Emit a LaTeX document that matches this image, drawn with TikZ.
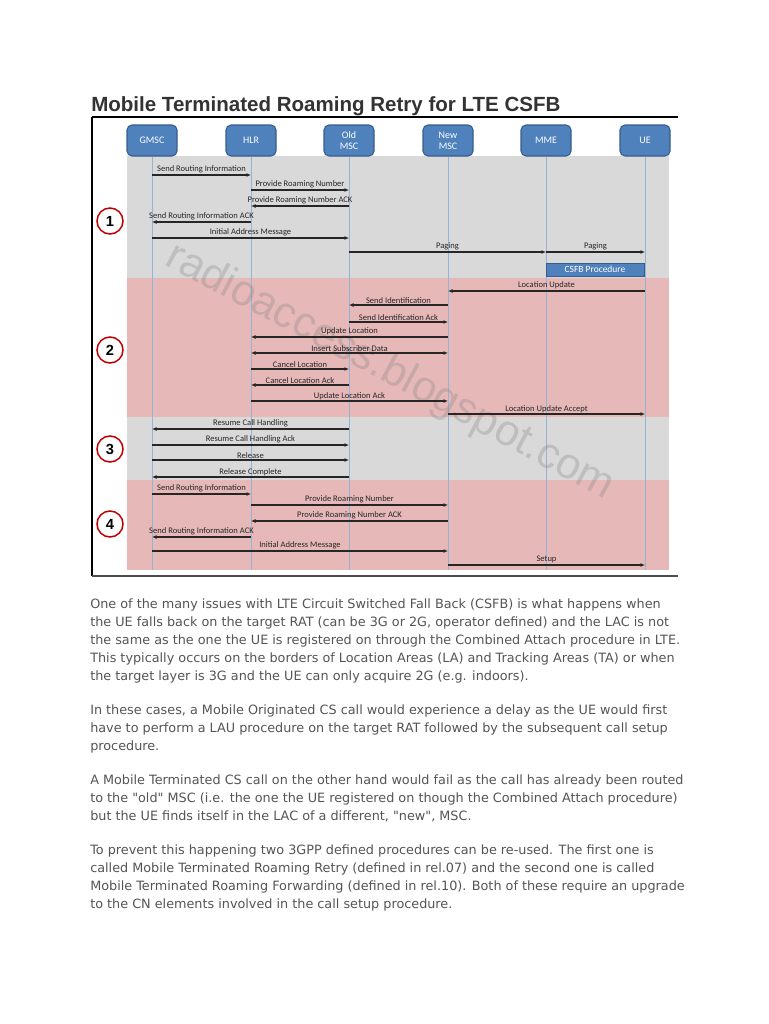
\documentclass[tikz,border=0pt]{standalone}
\usepackage{fontspec}
\setmainfont{DejaVu Sans}[Ligatures=TeXOff]
\newfontfamily\carlito{Carlito}
\newfontfamily\arialf{Liberation Sans}
\usetikzlibrary{arrows.meta}
\newcommand{\px}{0.75pt}
\definecolor{boxblue}{HTML}{4F81BD}
\definecolor{boxedge}{HTML}{385D8A}
\definecolor{lifeblue}{HTML}{95B3D7}
\definecolor{bandgray}{HTML}{D9D9D9}
\definecolor{bandpink}{HTML}{E6B9B8}
\definecolor{stepred}{HTML}{C00000}
\definecolor{titlegray}{HTML}{333333}
\definecolor{bodygray}{HTML}{555555}
\tikzset{
  lifebox/.style={draw=boxedge, fill=boxblue, rounded corners=5*\px, line width=0.8pt,
    minimum width=50*\px, minimum height=31*\px, inner sep=0pt, align=center,
    text=white, font=\carlito\fontsize{7.5}{8.5}\selectfont},
  procbox/.style={draw=boxedge, fill=boxblue, line width=0.6pt,
    minimum width=98*\px, minimum height=13*\px, inner sep=0pt,
    text=white, font=\carlito\fontsize{7.1}{8}\selectfont},
  stepcircle/.style={circle, draw=stepred, fill=white, line width=1.5*\px,
    minimum size=26*\px, inner sep=0pt, font=\arialf\bfseries\fontsize{11}{12}\selectfont},
  lifeline/.style={draw=lifeblue, line width=0.8*\px},
  msgline/.style={draw=black!85, line width=1.5*\px, -{Latex[length=4.5*\px,width=4*\px]}},
  msglabel/.style={midway, above, inner sep=0.6pt, text=black!85,
    font=\carlito\fontsize{6.4}{7}\selectfont},
  bodyline/.style={anchor=base west, inner sep=0pt, text=bodygray,
    font=\fontsize{9.6}{10}\selectfont},
}
\newcommand\seqmsg[5][]{\draw[msgline,#1] (#2 |- 0,#4) -- node[msglabel]{#5} (#3 |- 0,#4);}
\begin{document}
\begin{tikzpicture}[x=0.75pt,y=-0.75pt]
\useasboundingbox (0,0) rectangle (768,1024);
\fill[white] (0,0) rectangle (768,1024);

% title
\node[anchor=base west, inner sep=0pt, text=titlegray, font=\arialf\bfseries\fontsize{15.4}{17}\selectfont] (title) at (91,112) {Mobile Terminated Roaming Retry for LTE CSFB};

% bands
\fill[bandgray] (127,156) rectangle (669,278);
\fill[bandpink] (127,278) rectangle (669,417);
\fill[bandgray] (127,417) rectangle (669,480);
\fill[bandpink] (127,480) rectangle (669,570);

% frame
\draw[black, line width=2*\px] (92,117) -- (678,117);
\draw[black, line width=2*\px] (92,117) -- (92,576);
\draw[black!70, line width=1.2*\px] (92,576) -- (678,576);

% lifeline boxes
\node[lifebox] (gmsc) at (152,140.5) {GMSC};
\node[lifebox] (hlr) at (251,140.5) {HLR};
\node[lifebox] (old) at (349,140.5) {Old\\MSC};
\node[lifebox] (new) at (448,140.5) {New\\MSC};
\node[lifebox] (mme) at (546,140.5) {MME};
\node[lifebox] (ue) at (645,140.5) {UE};

% lifelines
\foreach \n in {gmsc,hlr,old,new,mme,ue}{
  \draw[lifeline] (\n.south) -- (\n |- 0,570);
}

% watermark
\node[rotate=-28, text=black!50, opacity=0.3, inner sep=0pt, font=\arialf\fontsize{32.5}{34}\selectfont] (wm) at (390,372) {radioaccess.blogspot.com};

% step circles
\node[stepcircle] (c1) at (110,221) {1};
\node[stepcircle] (c2) at (110,350) {2};
\node[stepcircle] (c3) at (110,449) {3};
\node[stepcircle] (c4) at (110,524) {4};

% phase 1
\seqmsg{gmsc}{hlr}{175}{Send Routing Information}
\seqmsg{hlr}{old}{190}{Provide Roaming Number}
\seqmsg{old}{hlr}{206}{Provide Roaming Number ACK}
\seqmsg{hlr}{gmsc}{222}{Send Routing Information ACK}
\seqmsg{gmsc}{old}{238}{Initial Address Message}
\seqmsg[line width=2*\px]{old}{mme}{252}{Paging}
\seqmsg[line width=2*\px]{mme}{ue}{252}{Paging}
\node[procbox] (csfb) at (595,269.5) {CSFB Procedure};

% phase 2
\seqmsg[line width=2*\px]{ue}{new}{291}{Location Update}
\seqmsg{new}{old}{305}{Send Identification}
\seqmsg{old}{new}{322}{Send Identification Ack}
\seqmsg[line width=2*\px]{new}{hlr}{337}{Update Location}
\seqmsg[line width=2*\px,{Latex[length=4.5*\px,width=4*\px]}-{Latex[length=4.5*\px,width=4*\px]}]{hlr}{new}{353}{Insert Subscriber Data}
\seqmsg[line width=2*\px]{hlr}{old}{369}{Cancel Location}
\seqmsg[line width=2*\px]{old}{hlr}{385}{Cancel Location Ack}
\seqmsg{hlr}{new}{401}{Update Location Ack}
\seqmsg{new}{ue}{414}{Location Update Accept}

% phase 3
\seqmsg[line width=2*\px]{old}{gmsc}{429}{Resume Call Handling}
\seqmsg[line width=2*\px]{gmsc}{old}{445}{Resume Call Handling Ack}
\seqmsg[line width=2*\px]{gmsc}{old}{460}{Release}
\seqmsg{old}{gmsc}{477}{Release Complete}

% phase 4
\seqmsg{gmsc}{hlr}{494}{Send Routing Information}
\seqmsg[line width=2*\px]{hlr}{new}{505}{Provide Roaming Number}
\seqmsg[line width=2*\px]{new}{hlr}{521}{Provide Roaming Number ACK}
\seqmsg{hlr}{gmsc}{537}{Send Routing Information ACK}
\seqmsg{gmsc}{new}{551}{Initial Address Message}
\seqmsg[line width=2*\px]{new}{ue}{565}{Setup}

% body text
\node[bodyline] (p1a) at (90,608) {One of the many issues with LTE Circuit Switched Fall Back (CSFB) is what happens when};
\node[bodyline] (p1b) at (90,626) {the UE falls back on the target RAT (can be 3G or 2G, operator defined) and the LAC is not};
\node[bodyline] (p1c) at (90,644) {the same as the one the UE is registered on through the Combined Attach procedure in LTE.};
\node[bodyline] (p1d) at (90,662) {This typically occurs on the borders of Location Areas (LA) and Tracking Areas (TA) or when};
\node[bodyline] (p1e) at (90,680) {the target layer is 3G and the UE can only acquire 2G (e.g. indoors).};

\node[bodyline] (p2a) at (90,714) {In these cases, a Mobile Originated CS call would experience a delay as the UE would first};
\node[bodyline] (p2b) at (90,732) {have to perform a LAU procedure on the target RAT followed by the subsequent call setup};
\node[bodyline] (p2c) at (90,750) {procedure.};

\node[bodyline] (p3a) at (90,784) {A Mobile Terminated CS call on the other hand would fail as the call has already been routed};
\node[bodyline] (p3b) at (90,802) {to the "old" MSC (i.e. the one the UE registered on though the Combined Attach procedure)};
\node[bodyline] (p3c) at (90,820) {but the UE finds itself in the LAC of a different, "new", MSC.};

\node[bodyline] (p4a) at (90,854) {To prevent this happening two 3GPP defined procedures can be re-used. The first one is};
\node[bodyline] (p4b) at (90,872) {called Mobile Terminated Roaming Retry (defined in rel.07) and the second one is called};
\node[bodyline] (p4c) at (90,890) {Mobile Terminated Roaming Forwarding (defined in rel.10). Both of these require an upgrade};
\node[bodyline] (p4d) at (90,908) {to the CN elements involved in the call setup procedure.};
\end{tikzpicture}
\end{document}
